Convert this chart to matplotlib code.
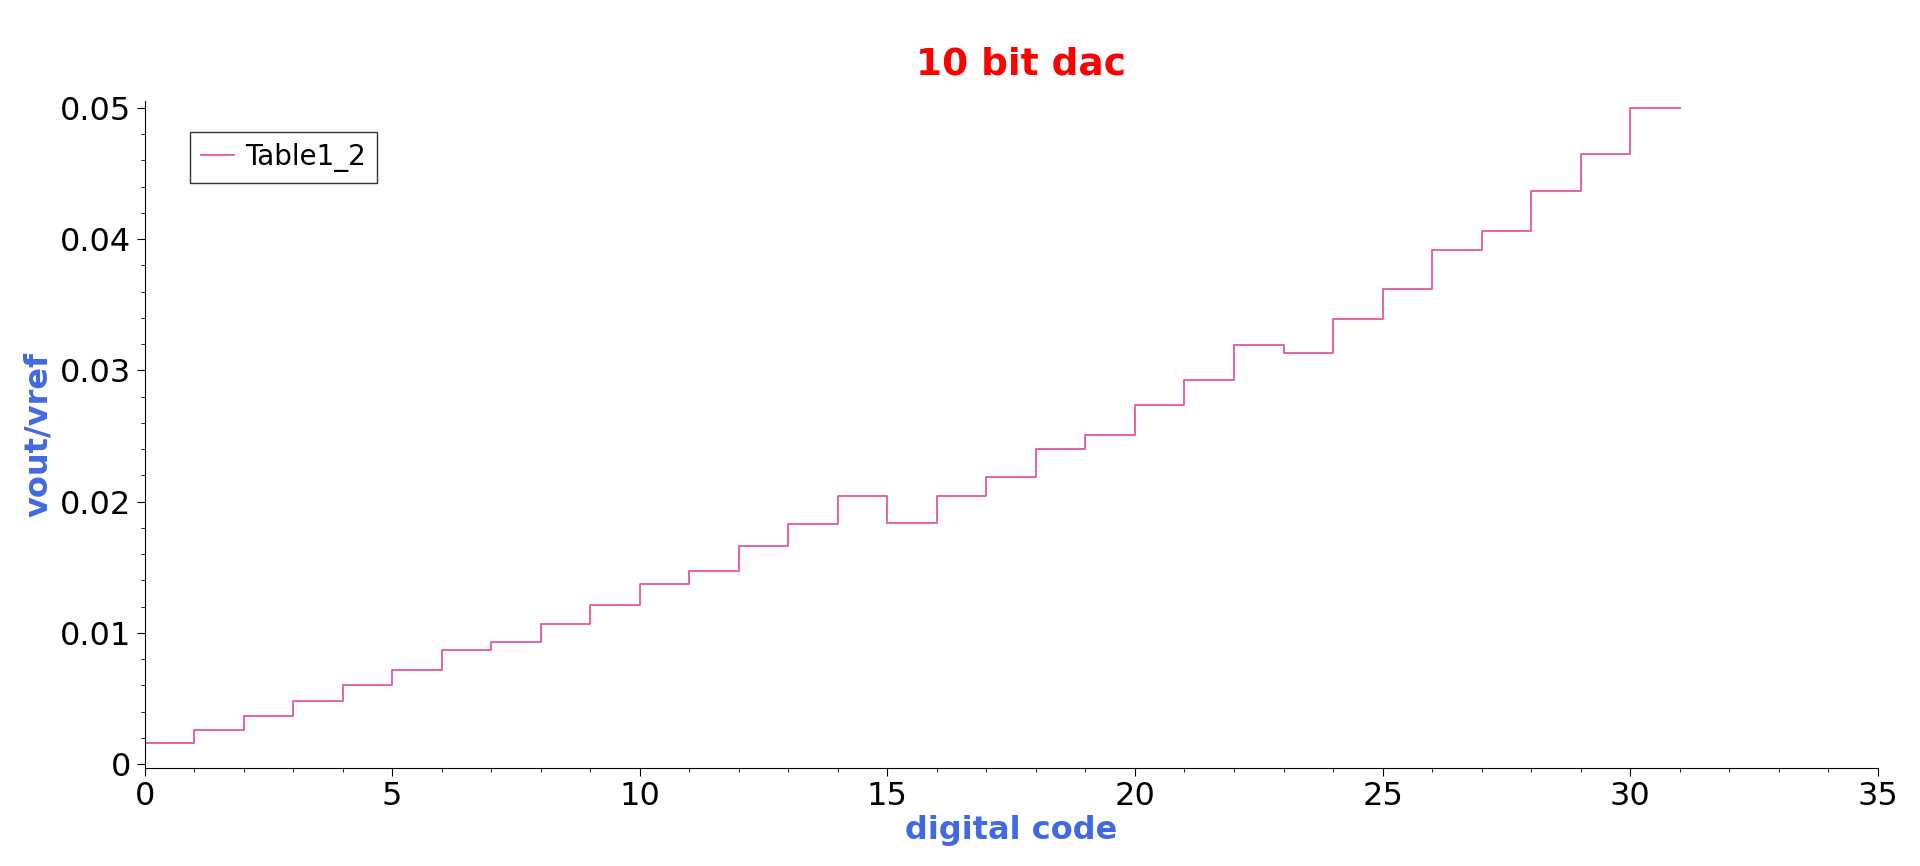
import matplotlib
matplotlib.use("Agg")
import matplotlib.pyplot as plt
from matplotlib.ticker import AutoMinorLocator

codes = list(range(32))
vout = [0.0016, 0.0026, 0.0037, 0.0048, 0.0060, 0.0072, 0.0087, 0.0093, 0.0107, 0.0121,
        0.0137, 0.0147, 0.0166, 0.0183, 0.0204, 0.0184, 0.0204, 0.0219, 0.0240, 0.0251,
        0.0274, 0.0293, 0.0319, 0.0313, 0.0339, 0.0362, 0.0392, 0.0406, 0.0437, 0.0465,
        0.0500, 0.0500]

fig = plt.figure(figsize=(19.2, 8.66), dpi=100)
ax = fig.add_axes([0.0753, 0.113, 0.9027, 0.77])
ax.step(codes, vout, where='post', color='#e8559a', lw=1.3, label='Table1_2')
ax.set_xlim(0, 35)
ax.set_ylim(-0.0003, 0.0505)
ax.set_xticks(range(0, 36, 5))
ax.set_yticks([0, 0.01, 0.02, 0.03, 0.04, 0.05])
ax.set_yticklabels(['0', '0.01', '0.02', '0.03', '0.04', '0.05'])
ax.xaxis.set_minor_locator(AutoMinorLocator(5))
ax.yaxis.set_minor_locator(AutoMinorLocator(5))
ax.tick_params(labelsize=23, length=6)
ax.tick_params(which='minor', length=3)
for s in ['top', 'right']:
    ax.spines[s].set_visible(False)
ax.set_xlabel('digital code', color='#4169e1', fontsize=23, fontweight='bold', labelpad=2)
ax.set_ylabel('vout/vref', color='#4169e1', fontsize=23, fontweight='bold', labelpad=4)
fig.text(0.532, 0.925, '10 bit dac', color='red', fontsize=27, fontweight='bold', ha='center', va='center')
leg = ax.legend(loc='upper left', bbox_to_anchor=(0.018, 0.975), fontsize=20, fancybox=False,
                edgecolor='black', handlelength=1.2, handletextpad=0.4, borderpad=0.4)
leg.get_frame().set_linewidth(1.0)
fig.savefig('out.png', dpi=100)
